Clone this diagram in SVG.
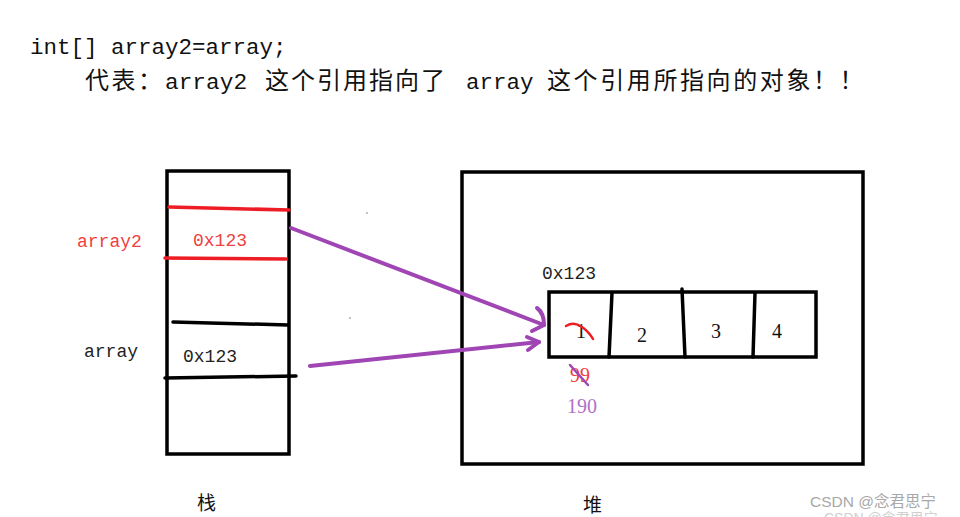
<svg xmlns="http://www.w3.org/2000/svg" width="960" height="517" viewBox="0 0 960 517">
<style>
.mono{font-family:"Liberation Mono","DejaVu Sans Mono",monospace;}
.cjk{font-family:"Noto Sans CJK SC","Liberation Sans",sans-serif;}
.box{fill:none;stroke:#000;stroke-width:3.5;}
.blk{fill:none;stroke:#000;stroke-width:3.5;stroke-linecap:round;}
.red{fill:none;stroke:#ee1c24;stroke-width:3.5;stroke-linecap:round;}
.arr{fill:none;stroke:#a046b4;stroke-width:4;stroke-linecap:round;stroke-linejoin:round;}
.lbl{font-size:18px;}
.num{font-family:"Liberation Serif","DejaVu Serif",serif;font-size:20px;fill:#111;}
</style>
<rect width="960" height="517" fill="#fff"/>
<g id="title">
<text class="mono" x="30" y="54" font-size="22.5" fill="#111">int[] array2=array;</text>
<text y="89" fill="#111"><tspan class="cjk" x="85" font-size="24" letter-spacing="2.5">代表：</tspan><tspan class="mono" x="165" font-size="22.8">array2</tspan><tspan class="cjk" x="265" font-size="24" letter-spacing="2">这个引用指向了</tspan><tspan class="mono" x="466" font-size="22.5">array</tspan><tspan class="cjk" x="547" font-size="24" letter-spacing="2.6">这个引用所指向的对象！！</tspan></text>
</g>
<g id="stack">
<rect class="box" x="167" y="171" width="122" height="283"/>
<path class="red" d="M169,207 L289,210"/>
<path class="red" d="M165,258 L286,259"/>
<path class="blk" d="M173,322 L288,325"/>
<path class="blk" d="M165,378 L296,376"/>
<text class="mono lbl" x="77" y="247" fill="#f04040">array2</text>
<text class="mono lbl" x="193" y="246" fill="#f04040">0x123</text>
<text class="mono lbl" x="84" y="357" fill="#222">array</text>
<text class="mono lbl" x="183" y="362" fill="#222">0x123</text>
<text class="cjk" x="197" y="510" font-size="19" fill="#111">栈</text>
</g>
<g id="heap">
<rect class="box" x="462" y="172" width="401" height="292"/>
<text class="cjk" x="583" y="512" font-size="19" fill="#111">堆</text>
</g>
<g id="array-object">
<text class="mono lbl" x="542" y="279" fill="#222">0x123</text>
<rect class="box" x="549" y="292" width="267" height="65"/>
<path class="blk" d="M612,293 L609,357"/>
<path class="blk" d="M682,289 L685,357"/>
<path class="blk" d="M755,293 L753,357"/>
<text class="num" x="576" y="338">1</text>
<text class="num" x="637" y="342">2</text>
<text class="num" x="711" y="338">3</text>
<text class="num" x="772" y="338">4</text>
<path d="M566,326 Q574,321 582,327 Q589,332 593,339" fill="none" stroke="#ee1c24" stroke-width="2.5" stroke-linecap="round"/>
<text class="num" x="570" y="382" style="fill:#f04040">99</text>
<path d="M570,365 L588,385" fill="none" stroke="#a046b4" stroke-width="2.5" stroke-linecap="round"/>
<text class="num" x="567" y="413" style="fill:#b070c8">190</text>
</g>
<g id="connectors">
<path class="arr" d="M291,228 L544,325"/>
<path class="arr" d="M537,308 Q544,313 544,325 L532,331"/>
<path class="arr" d="M310,366 L539,342"/>
<path class="arr" d="M527,337 L539,342 L528,350"/>
</g>
<g id="specks" fill="#777">
<circle cx="367" cy="213" r="0.8"/>
<circle cx="350" cy="318" r="0.8"/>
</g>
<g id="watermark">
<text x="810" y="507" font-family="'Liberation Sans','Noto Sans CJK SC',sans-serif" font-size="15.5" fill="#a8a8a8">CSDN @念君思宁</text>
<text x="824" y="523" font-family="'Liberation Sans','Noto Sans CJK SC',sans-serif" font-size="14" fill="#d0d0d0">CSDN @念君思宁</text>
</g>
</svg>
